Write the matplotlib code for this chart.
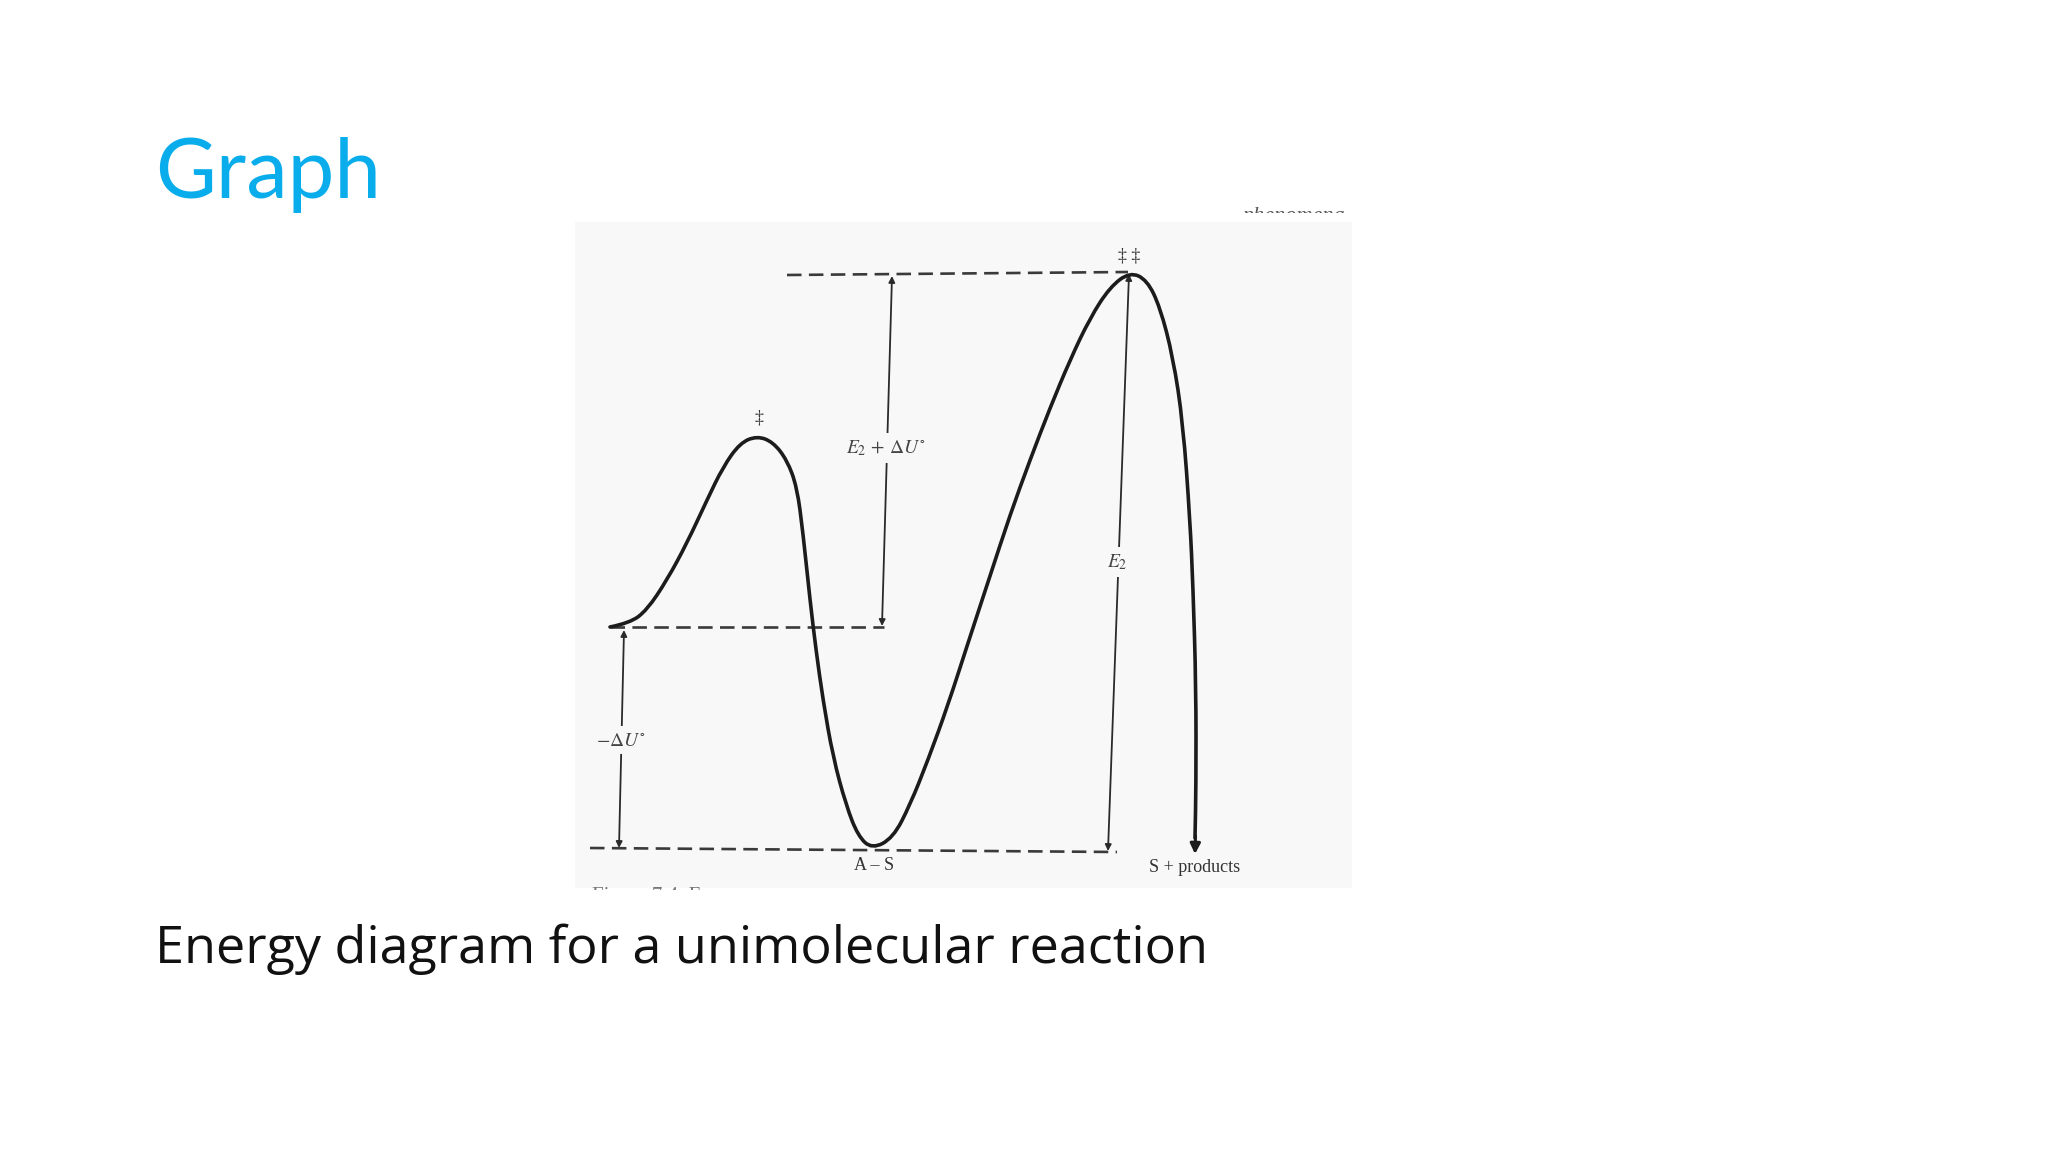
import matplotlib
matplotlib.use("Agg")
import matplotlib.pyplot as plt
from matplotlib.path import Path
from matplotlib.patches import PathPatch, Rectangle
from matplotlib.transforms import Bbox, TransformedBbox

plt.rcParams['mathtext.fontset'] = 'stix'

# energy curve (slide pixels, y grows downwards)
curve_x = [610, 630, 647, 667, 687, 707, 723, 740, 757, 773, 787, 797, 803, 810,
           816, 823, 833, 846, 858, 872, 893, 910, 928, 948, 968, 990, 1010, 1030,
           1050, 1070, 1090, 1110, 1130, 1147, 1160, 1173, 1183, 1190, 1193,
           1196, 1196, 1195]
curve_y = [627, 623, 610, 580, 543, 500, 467, 443, 436, 442, 460, 487, 533, 600,
           650, 700, 757, 805, 836, 849, 838, 805, 760, 705, 643, 576, 515, 460,
           408, 360, 318, 287, 272, 280, 307, 357, 423, 520, 587,
           687, 787, 838]

# dashed energy levels
level_x0 = [787, 610, 590]
level_x1 = [1128, 884, 1117]
level_y0 = [275, 627, 848]
level_y1 = [272, 627, 852]

# double headed arrows and their labels
arrow_x0 = [892, 1129, 624]
arrow_y0 = [276, 274, 630]
arrow_x1 = [882, 1108, 619]
arrow_y1 = [626, 851, 848]
arrow_labels = [r'$E_2\,+\,\Delta U^{\circ}$', r'$E_2$', r'$-\Delta U^{\circ}$']
label_x = [886, 1117, 621]
label_y = [448, 562, 740]

# point labels
point_labels = ['‡', '‡ ‡', 'A – S', 'S + products']
point_x = [759, 1129, 874, 1195]
point_y = [418, 256, 866, 868]

title = "Graph"
caption = "Energy diagram for a unimolecular reaction"

ink = '#1c1c1c'
scan_bg = '#f8f8f8'

fig = plt.figure(figsize=(20.48, 11.52), dpi=100)
ax = fig.add_axes([0, 0, 1, 1])
ax.set_xlim(0, 2048)
ax.set_ylim(1152, 0)
ax.axis('off')

# scanned picture background
scan = Rectangle((575, 222), 777, 666, facecolor=scan_bg, edgecolor='none', zorder=0)
ax.add_patch(scan)

# the curve, smoothed with quadratic segments through the midpoints
pts = list(zip(curve_x, curve_y))
verts = [pts[0]]
codes = [Path.MOVETO]
for i in range(1, len(pts) - 1):
    mid = ((pts[i][0] + pts[i + 1][0]) / 2, (pts[i][1] + pts[i + 1][1]) / 2)
    verts += [pts[i], mid]
    codes += [Path.CURVE3, Path.CURVE3]
verts.append(pts[-1])
codes.append(Path.LINETO)
ax.add_patch(PathPatch(Path(verts, codes), facecolor='none', edgecolor=ink,
                       lw=2.6, capstyle='round', zorder=3))
ax.annotate('', xy=(1195, 854), xytext=(1195.5, 836),
            arrowprops=dict(arrowstyle='-|>', color=ink, lw=2.2,
                            mutation_scale=15, shrinkA=0, shrinkB=0), zorder=3)

for x0, x1, y0, y1 in zip(level_x0, level_x1, level_y0, level_y1):
    ax.plot([x0, x1], [y0, y1], color='#3a3a3a', lw=1.9,
            linestyle=(0, (5.5, 2.8)), zorder=2)

for x0, y0, x1, y1 in zip(arrow_x0, arrow_y0, arrow_x1, arrow_y1):
    ax.annotate('', xy=(x0, y0), xytext=(x1, y1),
                arrowprops=dict(arrowstyle='<|-|>', color='#2a2a2a', lw=1.3,
                                mutation_scale=9, shrinkA=0, shrinkB=0), zorder=2)

for lab, x, y in zip(arrow_labels, label_x, label_y):
    ax.text(x, y, lab, fontsize=14, color='#444444', ha='center', va='center',
            bbox=dict(boxstyle='square,pad=0.25', fc=scan_bg, ec='none'), zorder=4)

for lab, x, y in zip(point_labels, point_x, point_y):
    ax.text(x, y, lab, fontsize=13, family='Liberation Serif', color='#333333',
            ha='center', va='center', zorder=4)

# cut-off remains of the book page around the scan
t = ax.text(1294, 216, 'phenomena', fontsize=16, family='Liberation Serif',
            style='italic', color='#555555', ha='center', va='center')
t.set_clip_on(True)
t.set_clip_box(TransformedBbox(Bbox([[1230, 203], [1356, 213]]), ax.transData))
t = ax.text(592, 896, 'Figure 7.4  Energy', fontsize=15, family='Liberation Serif',
            color='#777777', ha='left', va='center')
t.set_clip_on(True)
t.set_clip_box(TransformedBbox(Bbox([[588, 884], [730, 890]]), ax.transData))

ax.text(155, 198, title, fontsize=60, family='Lato', color='#0aadec',
        ha='left', va='baseline')
ax.text(155, 963, caption, fontsize=37.5, family='Open Sans', color='#111111',
        ha='left', va='baseline')

fig.savefig('out.png', dpi=100)
